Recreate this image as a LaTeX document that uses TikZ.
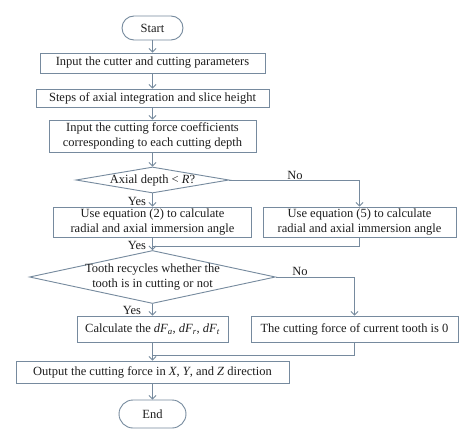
\documentclass[tikz,border=0pt]{standalone}
\usepackage{fontspec}
\setmainfont{Liberation Serif}
\usetikzlibrary{shapes.geometric,arrows.meta}
\definecolor{ln}{RGB}{118,138,158}
\definecolor{tx}{RGB}{30,30,30}
\begin{document}
\begin{tikzpicture}[x=1pt,y=-1pt,
  font=\fontsize{12.5}{15.5}\selectfont, text=tx,
  box/.style={draw=ln, line width=0.9pt, inner sep=0pt, align=center},
  term/.style={box, rounded corners=12pt},
  dia/.style={draw=ln, line width=0.9pt, shape=diamond, inner sep=0pt},
  arr/.style={draw=ln, line width=0.9pt, -{Straight Barb[length=3.5pt,width=7pt]}},
  ln/.style={draw=ln, line width=0.9pt},
  lbl/.style={inner sep=0pt}]
\useasboundingbox (0,0) rectangle (474,444);
\fill[white] (0,0) rectangle (474,444);
\node[term, minimum width=61, minimum height=24] (start) at (152.5,28) {Start};
\node[box, minimum width=225, minimum height=20] (b1) at (152.5,63) {Input the cutter and cutting parameters};
\node[box, minimum width=233, minimum height=18] (b2) at (152.5,98) {Steps of axial integration and slice height};
\node[box, minimum width=207, minimum height=32] (b3) at (152.5,136) {Input the cutting force coefficients\\corresponding to each cutting depth};
\node[dia, minimum width=153, minimum height=26] (d1) at (152.5,180) {};
\node[lbl] (d1t) at (d1.center) {Axial depth < \textit{R}?};
\node[box, minimum width=198, minimum height=30] (b4) at (152.5,222) {Use equation (2) to calculate\\radial and axial immersion angle};
\node[box, minimum width=193, minimum height=30] (b5) at (359.5,222) {Use equation (5) to calculate\\radial and axial immersion angle};
\node[dia, minimum width=246, minimum height=53] (d2) at (152.5,277) {};
\node[lbl, align=center] (d2t) at (d2.center) {Tooth recycles whether the\\tooth is in cutting or not};
\node[box, minimum width=151, minimum height=26] (b6) at (152.5,329) {Calculate the \textit{dF\textsubscript{a}}, \textit{dF\textsubscript{r}}, \textit{dF\textsubscript{t}}};
\node[box, minimum width=207, minimum height=26] (b7) at (354.5,329) {The cutting force of current tooth is 0};
\node[box, minimum width=273, minimum height=22] (b8) at (152.5,372) {Output the cutting force in \textit{X}, \textit{Y}, and \textit{Z} direction};
\node[term, minimum width=67, minimum height=28, rounded corners=14pt] (end) at (152.5,414) {End};
\coordinate (m1) at (152.5,246);
\coordinate (m2) at (152.5,355);
\draw[arr] (start) -- (b1);
\draw[arr] (b1) -- (b2);
\draw[arr] (b2) -- (b3);
\draw[arr] (b3) -- (d1);
\draw[arr] (d1) -- (b4);
\draw[arr] (d1.east) -| (b5.north);
\draw[arr] (b4) -- (d2);
\draw[ln] (b5.south) |- (m1);
\draw[arr] (d2.east) -| (b7.north);
\draw[arr] (d2) -- (b6);
\draw[ln] (b7.south) |- (m2);
\draw[arr] (b6) -- (b8);
\draw[arr] (b8) -- (end);
\node[lbl] (no1) at (295,175) {No};
\node[lbl] (yes1) at (137,201) {Yes};
\node[lbl] (yes2) at (137,245) {Yes};
\node[lbl] (no2) at (300,271) {No};
\node[lbl] (yes3) at (132,310) {Yes};
\end{tikzpicture}
\end{document}
